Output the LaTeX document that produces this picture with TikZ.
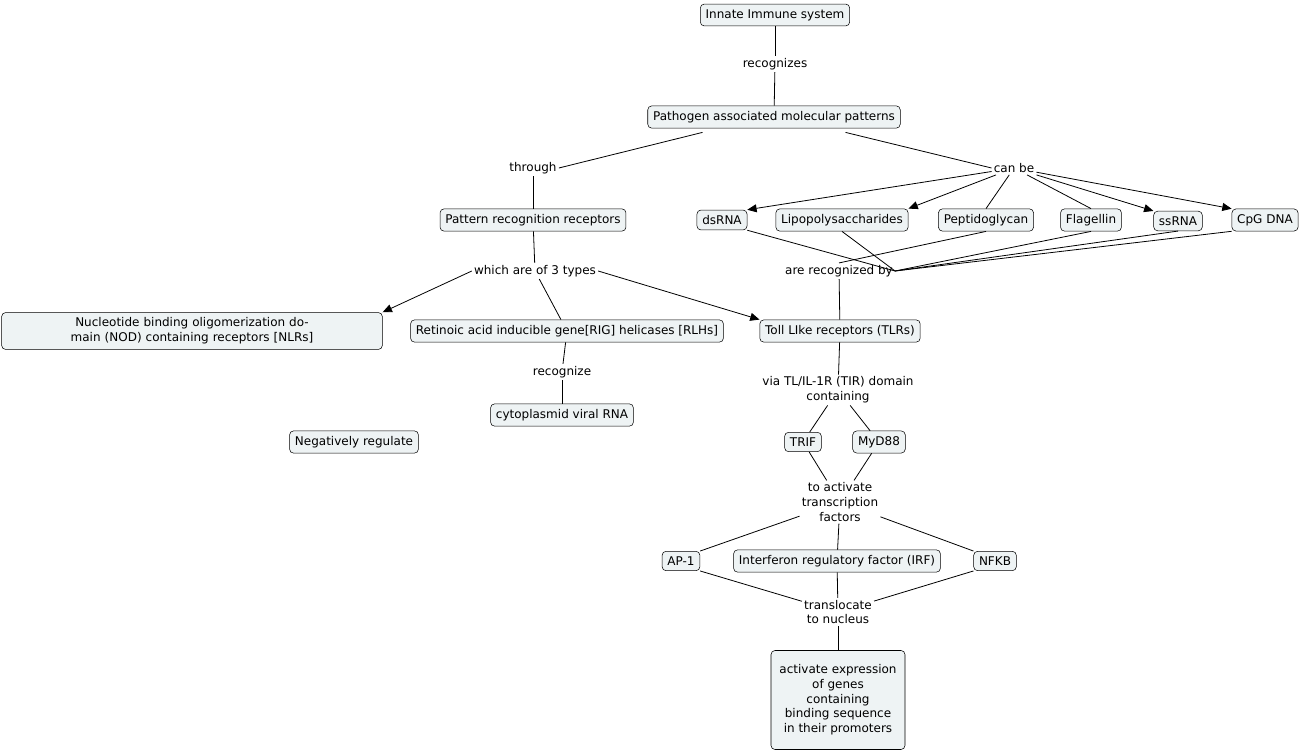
\documentclass[tikz,border=0pt]{standalone}
\usepackage{fontspec}
\setmainfont{DejaVu Sans}
\usetikzlibrary{arrows.meta}
\definecolor{boxfill}{HTML}{EEF3F4}
\begin{document}
\begin{tikzpicture}[x=0.75pt,y=-0.75pt,
  box/.style={draw=black,fill=boxfill,rounded corners=3pt,font=\fontsize{9}{11}\selectfont,inner sep=4pt,align=center},
  lab/.style={fill=white,font=\fontsize{9}{11}\selectfont,inner sep=1.5pt,align=center},
  ln/.style={draw=black,line width=0.6pt},
  ar/.style={ln,-{Triangle[length=7pt,width=6pt]}}]
\useasboundingbox (0,0) rectangle (1304,753);
\node[box] (innate) at (775,15) {Innate Immune system};
\node[lab] (recog) at (775,64) {recognizes};
\node[box] (pamp) at (774,117) {Pathogen associated molecular patterns};
\node[lab] (through) at (533,168) {through};
\node[lab] (canbe) at (1014,168) {can be};
\node[box] (prr) at (533,220) {Pattern recognition receptors};
\node[box] (dsrna) at (722,220) {dsRNA};
\node[box] (lps) at (842,220) {Lipopolysaccharides};
\node[box] (pep) at (986,220) {Peptidoglycan};
\node[box] (flag) at (1091,220) {Flagellin};
\node[box] (ssrna) at (1178,221) {ssRNA};
\node[box] (cpg) at (1265,220) {CpG DNA};
\node[lab] (types) at (535,271) {which are of 3 types};
\node[lab] (arecog) at (839,271) {are recognized by};
\node[box,text width=370pt*0.75] (nod) at (192,331) {Nucleotide binding oligomerization domain (NOD) containing receptors [NLRs]};
\node[box] (rig) at (567,331) {Retinoic acid inducible gene[RIG] helicases [RLHs]};
\node[box] (tlr) at (840,331) {Toll LIke receptors (TLRs)};
\node[lab] (recog2) at (562,372) {recognize};
\node[box] (cyto) at (562,415) {cytoplasmid viral RNA};
\node[box] (neg) at (354,442) {Negatively regulate};
\node[lab] (via) at (838,390) {via TL/IL-1R (TIR) domain\\containing};
\node[box] (trif) at (803,442) {TRIF};
\node[box] (myd) at (879,442) {MyD88};
\node[lab] (act) at (840,502) {to activate\\transcription\\factors};
\node[box] (ap1) at (681,561) {AP-1};
\node[box] (irf) at (837,561) {Interferon regulatory factor (IRF)};
\node[box] (nfkb) at (995,561) {NFKB};
\node[lab] (trans) at (838,612) {translocate\\to nucleus};
\node[box,minimum width=134pt*0.75,minimum height=99pt*0.75] (expr) at (838,700) {activate expression\\of genes\\containing\\binding sequence\\in their promoters};
\draw[ln] (innate)--(recog); \draw[ln] (recog)--(pamp);
\draw[ln] (pamp.south west)++(55,4) coordinate (p1) (p1)--(through.east);
\draw[ln] (through)--(prr);
\draw[ln] (pamp.south east)++(-55,4) coordinate (p2) (p2)--(canbe.west);
\draw[ar] (canbe)--(dsrna.north east);
\draw[ar] (canbe)--(lps.north east);
\draw[ln] (canbe)--(pep.north);
\draw[ln] (canbe)--(flag.north);
\draw[ar] (canbe)--(ssrna.north west);
\draw[ar] (canbe)--(cpg.north west);
\draw[ln] (dsrna.south east)--(arecog.east);
\draw[ln] (lps.south)--(arecog.east);
\draw[ln] (pep.south)--(arecog.north);
\draw[ln] (flag.south)--(arecog.east);
\draw[ln] (ssrna.south)--(arecog.east);
\draw[ln] (cpg.south west)--(arecog.east);
\draw[ln] (arecog)--(tlr);
\draw[ln] (prr)--(types);
\draw[ar] (types.west)--(nod.north east);
\draw[ln] (types)--(rig);
\draw[ar] (types.east)--(tlr.north west);
\draw[ln] (rig)--(recog2); \draw[ln] (recog2)--(cyto);
\draw[ln] (tlr)--(via);
\draw[ln] (via)--(trif); \draw[ln] (via)--(myd);
\draw[ln] (trif)--(act); \draw[ln] (myd)--(act);
\draw[ln] (act)--(ap1.north east); \draw[ln] (act)--(irf); \draw[ln] (act)--(nfkb.north west);
\draw[ln] (ap1.south east)--(trans); \draw[ln] (irf)--(trans); \draw[ln] (nfkb.south west)--(trans);
\draw[ln] (trans)--(expr);
\end{tikzpicture}
\end{document}
